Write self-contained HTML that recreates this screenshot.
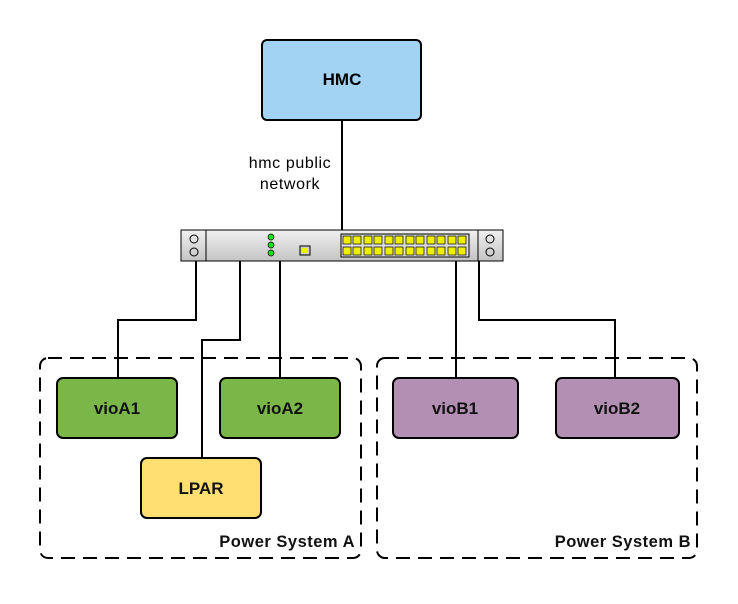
<!DOCTYPE html>
<html><head><style>body{margin:0;background:#fff}text{font-family:"Liberation Sans",sans-serif}</style></head><body>
<svg width="738" height="599" viewBox="0 0 738 599" xmlns="http://www.w3.org/2000/svg">
<defs><linearGradient id="g" x1="0" y1="0" x2="0" y2="1"><stop offset="0" stop-color="#f0f0f0"/><stop offset="1" stop-color="#c4c4c4"/></linearGradient></defs>
<rect x="0" y="0" width="738" height="599" fill="#fff"/>
<g fill="none" stroke="#000" stroke-width="2" stroke-dasharray="14,8">
<rect x="40" y="358" width="321" height="200" rx="8"/>
<rect x="377" y="358" width="320" height="200" rx="8"/>
</g>
<g fill="none" stroke="#000" stroke-width="2">
<path d="M342 120V230"/>
<path d="M196 261V320H118V378"/>
<path d="M240 261V340H202V458"/>
<path d="M280 261V378"/>
<path d="M456 261V378"/>
<path d="M479 261V320H615V378"/>
</g>
<rect x="262" y="40" width="159" height="80" rx="5" fill="#a3d3f3" stroke="#000" stroke-width="2"/>
<text x="342" y="85" font-size="17" font-weight="bold" text-anchor="middle">HMC</text>
<text x="290" y="168" font-size="16" letter-spacing="0.6" text-anchor="middle">hmc public</text>
<text x="290" y="189" font-size="16" letter-spacing="0.6" text-anchor="middle">network</text>
<rect x="181" y="230" width="322" height="31" fill="url(#g)" stroke="#000"/>
<line x1="206" y1="230" x2="206" y2="261" stroke="#000"/>
<line x1="478" y1="230" x2="478" y2="261" stroke="#000"/>
<g fill="none" stroke="#000"><circle cx="194" cy="239" r="4"/><circle cx="194" cy="252" r="4"/><circle cx="490" cy="239" r="4"/><circle cx="490" cy="252" r="4"/></g>
<g fill="#22dd22" stroke="#000" stroke-width="0.7"><circle cx="271" cy="237" r="3"/><circle cx="271" cy="245" r="3"/><circle cx="271" cy="253" r="3"/></g>
<rect x="300" y="246" width="10" height="9" fill="#ccc" stroke="#000"/><rect x="302" y="248" width="6" height="5" fill="#ee0"/>
<rect x="341" y="234" width="128" height="23" fill="#ddd" stroke="#000"/>
<g fill="#ee0" stroke="#000" stroke-width="0.7">
<rect x="343" y="236" width="8" height="8"/><rect x="353" y="236" width="8" height="8"/><rect x="364" y="236" width="8" height="8"/><rect x="374" y="236" width="8" height="8"/><rect x="385" y="236" width="8" height="8"/><rect x="395" y="236" width="8" height="8"/><rect x="406" y="236" width="8" height="8"/><rect x="416" y="236" width="8" height="8"/><rect x="427" y="236" width="8" height="8"/><rect x="437" y="236" width="8" height="8"/><rect x="448" y="236" width="8" height="8"/><rect x="458" y="236" width="8" height="8"/>
<rect x="343" y="247" width="8" height="8"/><rect x="353" y="247" width="8" height="8"/><rect x="364" y="247" width="8" height="8"/><rect x="374" y="247" width="8" height="8"/><rect x="385" y="247" width="8" height="8"/><rect x="395" y="247" width="8" height="8"/><rect x="406" y="247" width="8" height="8"/><rect x="416" y="247" width="8" height="8"/><rect x="427" y="247" width="8" height="8"/><rect x="437" y="247" width="8" height="8"/><rect x="448" y="247" width="8" height="8"/><rect x="458" y="247" width="8" height="8"/>
</g>
<g stroke="#000" stroke-width="2">
<rect x="57" y="378" width="120" height="60" rx="6" fill="#7ab648"/>
<rect x="220" y="378" width="120" height="60" rx="6" fill="#7ab648"/>
<rect x="141" y="458" width="120" height="60" rx="6" fill="#ffdf71"/>
<rect x="393" y="378" width="125" height="60" rx="6" fill="#b48fb4"/>
<rect x="556" y="378" width="123" height="60" rx="6" fill="#b48fb4"/>
</g>
<g font-size="17" font-weight="bold" text-anchor="middle" fill="#111">
<text x="117" y="414">vioA1</text>
<text x="280" y="414">vioA2</text>
<text x="201" y="494">LPAR</text>
<text x="455" y="414">vioB1</text>
<text x="617" y="414">vioB2</text>
</g>
<g font-size="16.5" font-weight="bold" text-anchor="end" fill="#111" letter-spacing="0.5">
<text x="355" y="547">Power System A</text>
<text x="691" y="547">Power System B</text>
</g>
</svg>
</body></html>
